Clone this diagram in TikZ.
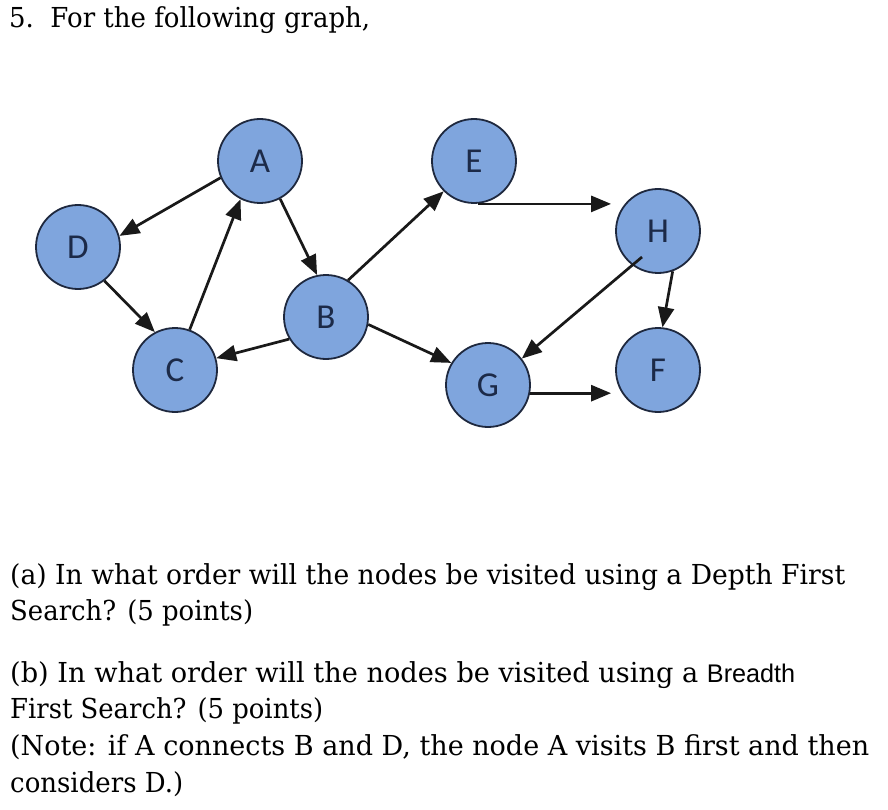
\documentclass[tikz,border=0pt]{standalone}
\usepackage{fontspec}
\setmainfont{DejaVu Serif}
\newfontfamily\nodefont{Carlito}
\newfontfamily\brfont{Liberation Sans}
\usetikzlibrary{arrows.meta}
\definecolor{nodefill}{RGB}{127,165,221}
\definecolor{nodeborder}{RGB}{30,40,62}
\definecolor{nodetext}{RGB}{28,42,72}
\newcommand{\fitto}[2]{\resizebox{#1}{\height}{#2}}
\begin{document}
\begin{tikzpicture}[x=1pt,y=-1pt,
  vtx/.style={circle, draw=nodeborder, line width=1.8pt, fill=nodefill,
    minimum size=84pt, inner sep=0pt, text=nodetext,
    font=\nodefont\fontsize{35}{35}\selectfont},
  edge/.style={line width=2.7pt, draw=black!90,
    -{Triangle[length=20pt,width=16pt]}},
  txt/.style={anchor=base west, inner sep=0pt,
    font=\fontsize{27.5}{27.5}\selectfont}]
\useasboundingbox[fill=white] (0,0) rectangle (888,810);

% title
\node[txt, font=\fontsize{27.5}{27.5}\selectfont] (title) at (9,28) {\fitto{361pt}{5.\ \ For the following graph,}};

% vertices
\node[vtx] (A) at (260,161) {A};
\node[vtx] (D) at (78,247) {D};
\node[vtx] (C) at (175,370) {C};
\node[vtx] (B) at (326,317) {B};
\node[vtx] (E) at (474,161) {E};
\node[vtx] (H) at (658,231) {H};
\node[vtx] (G) at (488,385) {G};
\node[vtx] (F) at (658,370) {F};

% edges
\draw[edge] (A.203) -- (D.15);
\draw[edge] (D.-52) -- (C.118);
\draw[edge] (C.70) -- (A.243);
\draw[edge] (A.-62) -- (B.102);
\draw[edge] (B.211) -- (C.16);
\draw[edge] (B.59) -- (E.225);
\draw[edge] (B.-10) -- (G.149);
\draw[edge] ([xshift=4pt]E.south) -- ([xshift=-4pt]E.south -| H.west);
\draw[edge] ([shift={(-16pt,-26pt)}]H.center) -- (G.38);
\draw[edge] (H.-70) -- (F.84);
\draw[edge] (G.-11) -- ([xshift=-4pt]G.-11 -| F.west);

% question text
\node[txt] (qa1) at (10,584) {\fitto{835pt}{(a) In what order will the nodes be visited using a Depth First}};
\node[txt] (qa2) at (10,620) {\fitto{243pt}{Search? (5 points)}};
\node[txt] (qb1) at (10,682) {\fitto{785pt}{(b) In what order will the nodes be visited using a {\brfont\fontsize{25.5}{25.5}\selectfont Breadth}}};
\node[txt] (qb2) at (10,718) {\fitto{313pt}{First Search? (5 points)}};
\node[txt] (qn1) at (10,755) {\fitto{859pt}{(Note: if A connects B and D, the node A visits B first and then}};
\node[txt] (qn2) at (10,792) {\fitto{173pt}{considers D.)}};
\end{tikzpicture}
\end{document}
